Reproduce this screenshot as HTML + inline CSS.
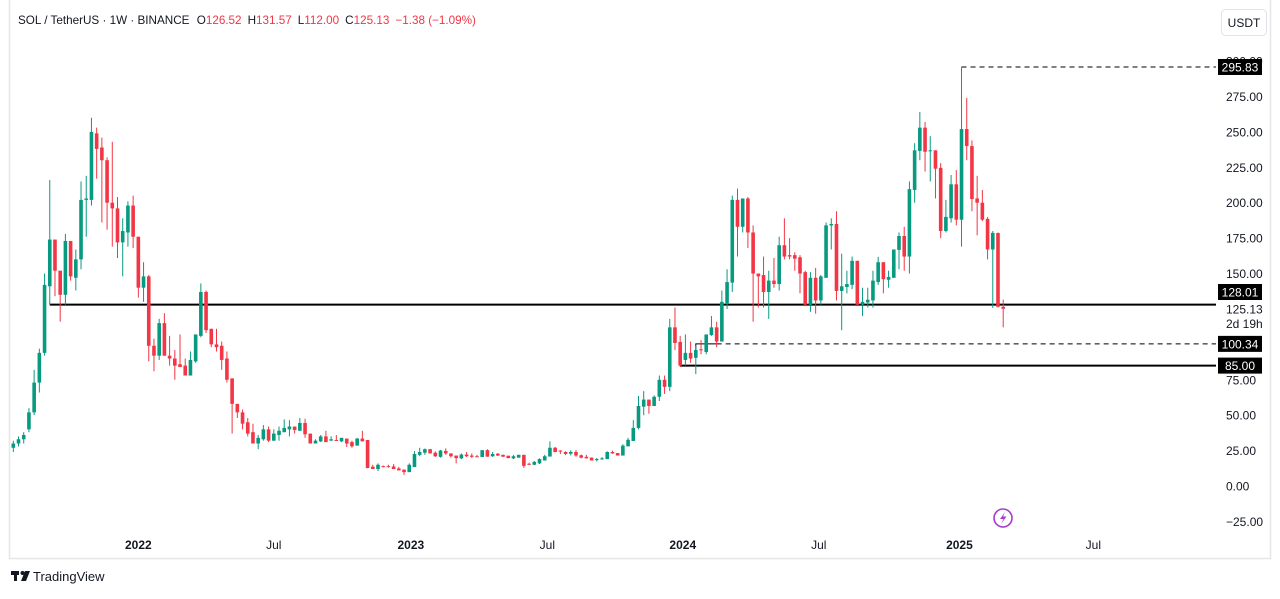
<!DOCTYPE html>
<html><head><meta charset="utf-8"><style>
html,body{margin:0;padding:0;background:#fff;}
body{width:1280px;height:594px;overflow:hidden;position:relative;font-family:"Liberation Sans",sans-serif;}
svg text{font-family:"Liberation Sans",sans-serif;}
</style></head><body>
<svg id="chart" width="1280" height="594" viewBox="0 0 1280 594" xmlns="http://www.w3.org/2000/svg">
  <rect x="9.5" y="-1" width="1261" height="559.5" fill="#fff" stroke="#e6e6e6" stroke-width="1.5"/>
  <text x="18" y="24" font-size="11.7" fill="#131722">SOL / TetherUS · 1W · BINANCE <tspan dx="4">O</tspan><tspan fill="#f23645">126.52</tspan><tspan dx="6">H</tspan><tspan fill="#f23645">131.57</tspan><tspan dx="6">L</tspan><tspan fill="#f23645">112.00</tspan><tspan dx="6">C</tspan><tspan fill="#f23645">125.13</tspan><tspan dx="6" fill="#f23645">−1.38 (−1.09%)</tspan></text>
  <g>
    <rect x="1221.5" y="9.5" width="45" height="26" rx="4" fill="#fff" stroke="#e0e3eb"/>
    <text x="1244" y="27" font-size="12" fill="#131722" text-anchor="middle">USDT</text>
  </g>
  <g id="yaxis"></g>
  <g id="xaxis"></g>
  <g id="levels"></g>
  <g id="candles"></g>
  <g id="labels"></g>
  <g>
    <circle cx="1003" cy="518" r="9" fill="#fff" stroke="#a43cc8" stroke-width="1.6"/>
    <path d="M1005 512 L1000 519 L1003.5 519 L1001 524 L1006.5 516.5 L1003 516.5 Z" fill="#a43cc8"/>
  </g>
  <g>
    <rect x="11" y="571" width="8" height="4" fill="#131722"/>
    <rect x="14" y="571" width="3" height="10" fill="#131722"/>
    <circle cx="22.5" cy="573" r="2" fill="#131722"/>
    <path d="M25 571 L30 571 L26 581 L21 581 Z" fill="#131722"/>
    <text x="33" y="581" font-size="13" fill="#131722">TradingView</text>
  </g>
</svg>
<script>
const opens=[27,30,33,40,52,73,94,141,174,152,135,173,147,160,202,202,249,239,230,200,196,172,179,198,176,140,148,99,92,115,92,90,86,85,78,88,106,137,111,100,99,90,76,58,52,45,38,30,33,40,32,36,38,40,42,39,44.5,37,30,31.5,35,32,32.5,31.5,33.5,31,28.5,33.5,32.5,13.6,12,14,14,13.8,12.4,11.6,9.8,13.4,22,23.5,26,23.5,20.6,24.8,23,21.5,19.5,22.2,21.5,21,20.5,25.3,21,22.8,22,21.4,19.5,20,22,15.7,15,16,18,20.8,27,25,24,22.8,24,21.7,20.6,20,18.5,18.8,19,24,23.3,21.5,28,31.8,41,56,61,56.5,63,75,70,112,101.7,89,94,90.5,96.5,94.6,106.6,112,102,129,143.6,202,183,203,179,150,149,137,145,142.6,170,163,163,161.5,151,128,147,131,147,184,185,137.7,140.5,142,159,128,129.6,131,144,158,145.6,147,166.7,176.5,162,209,236.6,253,236.6,237,224.6,180,189,213,188,252,240,203,200,188.6,167,178.6,126.52];
const highs=[32,35,38,55,82,97,150,216,174,152,178,173,167,215,219,260,253,246,232,243,204,189,201,205,176,158,149,104,118,122,106,96,107,90,95,107,143,138,111,111,102,95,76,58,54,48,44,36,43,42,40,42,47,46.5,42,48,47.5,37,33,36,39,35,36,34,33.5,32,34,39,32.5,15,16,14.5,15,15.5,13.5,11.6,16,24.6,27,26.5,26,24.5,25.5,26.6,23,21.5,23,24,23,22,25.3,26,24,23.3,22.2,21.4,22,22,22,16.5,17.7,19.5,22,31.5,27.6,25.3,24.5,25.3,25.3,22.2,22,20.2,19.8,20.5,24.5,25,23.3,29.5,34,46.5,63.5,67,61,64,78,78,118,126,106,107,102,99,103,107,120,116,138,153,205,210,203,204,184,150,162,152,161,176,189,175,165,163,152,151,154,149,186,189,194,164,152,162,159,140,140,152,161.8,158,152,167,179,183,215,242,264,257,247,237,228,202,219.6,223,296,274,244,219,209,190,180,179,131.57];
const lows=[24,28,30,38,50,66,92,128,134,116,128,145,138,153,176,198,217,186,181,169,161,148,169,168,133,130,88,81,89,92,85,75,84,78,78,87,105,108,98,95,82,73,37,48,40,35,30,26,32,31,32,32,38,35,37,39,34,30,30,31,31,32,32,31,27.5,27,28.5,31.5,12.5,12,10.6,13.3,13,12,11,7.8,9.8,13.4,21,22,23,20.5,20,22,20,16,19,20.5,19.8,20.3,20.5,20.7,20.5,21.2,20.5,19.5,19,20,12.7,14.8,14.8,15.5,18,20.8,23.8,22.6,21.8,21.6,20.6,19.5,19.5,18,17.3,18.5,19,22.7,21.5,21.5,28,31.8,40,50,51,56.5,60,65,67,96,84,85,87,79,93,93,106,98,102,125,137,162,179,168,116,126,126,118,140,138,160,160,152,136,128,123,121.6,128,147,167,131,110,136,139,128,120,126,126,142,136,140,147,153,152,150,200,230,222,215,203,175,179,186,184,169,230,194,177,187,160,125.7,126,112];
const closes=[30,33,36,52,73,94,142,174,152,135,173,148,160,202,203,250,238,230,200,196,172,180,198,176,140,148,99,92,115,92,90,85,84,78,89,107,137,110,100,98,89,75,58,52,44,37,30,34,40,32,37,39,41,42,39.5,44.5,36.5,30,32,35,31,33,32,34,30,28,33.5,31.5,12.7,12,15,13.5,13.5,12,11,9.8,15,22.6,24,26,23,21,25,23,21,19.7,22.2,21,20.6,20.5,25.3,20.7,22.6,21.5,20.7,19.7,21,22,14.2,15,17,19,21,27,24,24.5,22.6,24,21.5,20,19.5,18,19,19.5,24,23,21.5,28.5,32.6,41,56.5,61,56.5,63,75,70,112,101,85,94,90,96,96,107,112,102,130,144,202,183,203,179,150,148,137,145,142.6,170,162,162,160.5,150,128,147,131,148,184,185,137.7,141,142.6,159,128,130,131.5,145,158,146,147.6,167,176.5,162,209.6,237,253,236,237,224,180,190,213,188,252,240,202.6,200,188,167,178.7,126.5,125.13];
const priceTicks=[300,275,250,225,200,175,150,125,100,75,50,25,0,-25];
const timeLabels=["2022","Jul","2023","Jul","2024","Jul","2025","Jul"];
const timeLabelIdx=[24,50,76.3,102.5,128.5,154.6,181.6,207.3];
const timeLabelBold=[1,0,1,0,1,0,1,0];
const levelPrices=[295.83,128.01,100.34,85.00];
const levelNames=["ath-level","support-128","support-100","support-85"];

const NS="http://www.w3.org/2000/svg";
function yS(p){return 486-1.4164*p;}
function xS(i){return 13.3+i*5.21;}
function mk(tag,attrs,parent){const e=document.createElementNS(NS,tag);for(const k in attrs)e.setAttribute(k,attrs[k]);parent.appendChild(e);return e;}

const ya=document.getElementById('yaxis');
priceTicks.forEach(function(p){
  if(p===300||p===125||p===100)return;
  const t=mk('text',{x:1226,y:yS(p)+4.5,'font-size':12,fill:'#131722'},ya);
  
  
  t.textContent=p<0?'−'+Math.abs(p).toFixed(2):p.toFixed(2);
});
const t300=mk('text',{x:1226,y:yS(300)+4.5,'font-size':12,fill:'#131722'},ya);


t300.textContent='300.00';

const xa=document.getElementById('xaxis');
timeLabels.forEach(function(s,k){
  const t=mk('text',{x:xS(timeLabelIdx[k]),y:549,'font-size':12,fill:'#131722','text-anchor':'middle','font-weight':timeLabelBold[k]?'bold':'normal'},xa);
  
  
  t.textContent=s;
});

const lv=document.getElementById('levels');
let l0=mk('line',{x1:xS(182),x2:1216,y1:yS(levelPrices[0]),y2:yS(levelPrices[0]),stroke:'#000','stroke-width':1,'stroke-dasharray':'5 4'},lv);


let l1=mk('line',{x1:xS(7),x2:1216,y1:yS(levelPrices[1]),y2:yS(levelPrices[1]),stroke:'#000','stroke-width':2},lv);


let l2a=mk('polyline',{points:xS(131)+','+(yS(levelPrices[2])+6)+' '+xS(131)+','+yS(levelPrices[2])+' '+xS(135)+','+yS(levelPrices[2]),fill:'none',stroke:'#000','stroke-width':1},lv);


let l2=mk('line',{x1:xS(135),x2:1216,y1:yS(levelPrices[2]),y2:yS(levelPrices[2]),stroke:'#000','stroke-width':1,'stroke-dasharray':'5 4'},lv);


let l3=mk('line',{x1:xS(128),x2:1216,y1:yS(levelPrices[3]),y2:yS(levelPrices[3]),stroke:'#000','stroke-width':2},lv);



const cg=document.getElementById('candles');
for(let i=0;i<opens.length;i++){
  const o=opens[i],h=highs[i],l=lows[i],c=closes[i];
  const col=c>=o?'#089981':'#f23645';
  const x=xS(i);
  const g=mk('g',{},cg);
  
  
  const w=mk('line',{x1:x,x2:x,y1:yS(h),y2:yS(l),stroke:col,'stroke-width':1},g);
  
  
  const top=yS(Math.max(o,c)),bh=Math.max(1,Math.abs(yS(o)-yS(c)));
  const b=mk('rect',{x:x-1.8,y:top,width:3.6,height:bh,fill:col},g);
  
  
}

const lb=document.getElementById('labels');
function boxLabel(txt,yc,name){
  const g=mk('g',{},lb);
  
  
  mk('rect',{x:1218,y:yc-8,width:44,height:16,fill:'#000'},g);
  const t=mk('text',{x:1240,y:yc+4.5,'font-size':12,fill:'#fff','text-anchor':'middle'},g);
  t.textContent=txt;
}
boxLabel(levelPrices[0].toFixed(2),yS(levelPrices[0]),'ath-price-label');
boxLabel(levelPrices[1].toFixed(2),292,'support-128-label');
boxLabel(levelPrices[2].toFixed(2),yS(levelPrices[2]),'support-100-label');
boxLabel(levelPrices[3].toFixed(2),yS(levelPrices[3]),'support-85-label');
const lc=mk('text',{x:1226,y:313.5,'font-size':12,fill:'#131722'},lb);


lc.textContent=closes[closes.length-1].toFixed(2);
const cd=mk('text',{x:1226,y:328,'font-size':12,fill:'#131722'},lb);


cd.textContent='2d 19h';
</script>
</body></html>
